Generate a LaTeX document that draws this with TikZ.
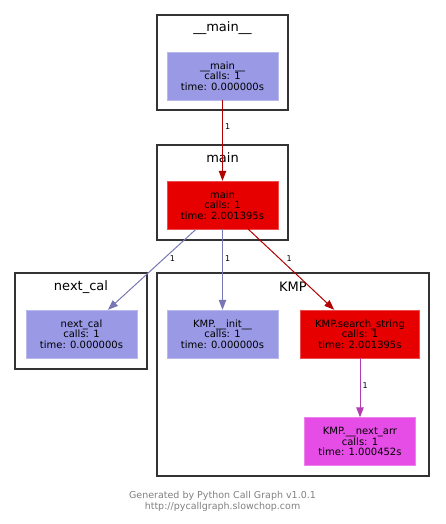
\documentclass[tikz,border=0pt]{standalone}
\usepackage{fontspec}
\setmainfont{DejaVu Sans}
\usetikzlibrary{arrows.meta}
\definecolor{lav}{RGB}{153,153,230}
\definecolor{lavedge}{RGB}{119,119,179}
\definecolor{hot}{RGB}{230,0,0}
\definecolor{hotedge}{RGB}{179,0,0}
\definecolor{mag}{RGB}{230,77,230}
\definecolor{magedge}{RGB}{179,60,179}
\definecolor{clus}{RGB}{51,51,51}
\definecolor{foot}{RGB}{128,128,128}
\begin{document}
\begin{tikzpicture}[>={Triangle[length=10pt,width=7.5pt]}, x=1pt, y=-1pt,
  func/.style={minimum width=111pt, minimum height=48pt, inner sep=0pt, align=center,
    font=\fontsize{10}{10.5}\selectfont},
  cluster/.style={draw=clus, line width=2.5pt},
  ctitle/.style={font=\fontsize{13}{15}\selectfont},
  call/.style={->, line width=1pt},
  lbl/.style={font=\fontsize{8}{9}\selectfont, inner sep=2pt, text=black}]
\useasboundingbox (0,0) rectangle (445,524);

\draw [cluster](157,15) rectangle (288,110);
\node[ctitle] (tmain) at (222.5,28) {\_\_main\_\_};
\draw [cluster](157,145) rectangle (288,240);
\node[ctitle] (tmain2) at (222.5,158) {main};
\draw [cluster](15,273) rectangle (147,369);
\node[ctitle] (tnext) at (81,287) {next\_cal};
\draw [cluster](157,273) rectangle (429,476);
\node[ctitle] (tkmp) at (293,287) {KMP};

\node[func, fill=lav, draw=lav!70!white] (dmain) at (222.5,76) {\_\_main\_\_\\calls: 1\\time: 0.000000s};
\node[func, fill=hot, draw=hot!70!white] (main) at (222.5,205) {main\\calls: 1\\time: 2.001395s};
\node[func, fill=lav, draw=lav!70!white] (nextcal) at (81.5,334) {next\_cal\\calls: 1\\time: 0.000000s};
\node[func, fill=lav, draw=lav!70!white] (init) at (222.5,334) {KMP.\_\_init\_\_\\calls: 1\\time: 0.000000s};
\node[func, fill=hot, draw=hot!70!white, minimum width=119pt] (search) at (360,334) {KMP.search\_string\\calls: 1\\time: 2.001395s};
\node[func, fill=mag, draw=mag!70!white] (nextarr) at (360,441.5) {KMP.\_\_next\_arr\\calls: 1\\time: 1.000452s};

\draw[call, hotedge] (dmain) -- node[lbl, pos=.33, right]{1} (main);
\draw[call, lavedge] (main) -- node[lbl, pos=.36, right=3pt]{1} (nextcal);
\draw[call, lavedge] (main) -- node[lbl, pos=.36, right]{1} (init);
\draw[call, hotedge] (main) -- node[lbl, pos=.36, right=5pt]{1} (search);
\draw[call, magedge] (search) -- node[lbl, pos=.47, right]{1} (nextarr);

\node[font=\fontsize{9.5}{11}\selectfont, text=foot, align=center] (footer) at (222.5,501)
  {Generated by Python Call Graph v1.0.1\\http://pycallgraph.slowchop.com};
\end{tikzpicture}
\end{document}
